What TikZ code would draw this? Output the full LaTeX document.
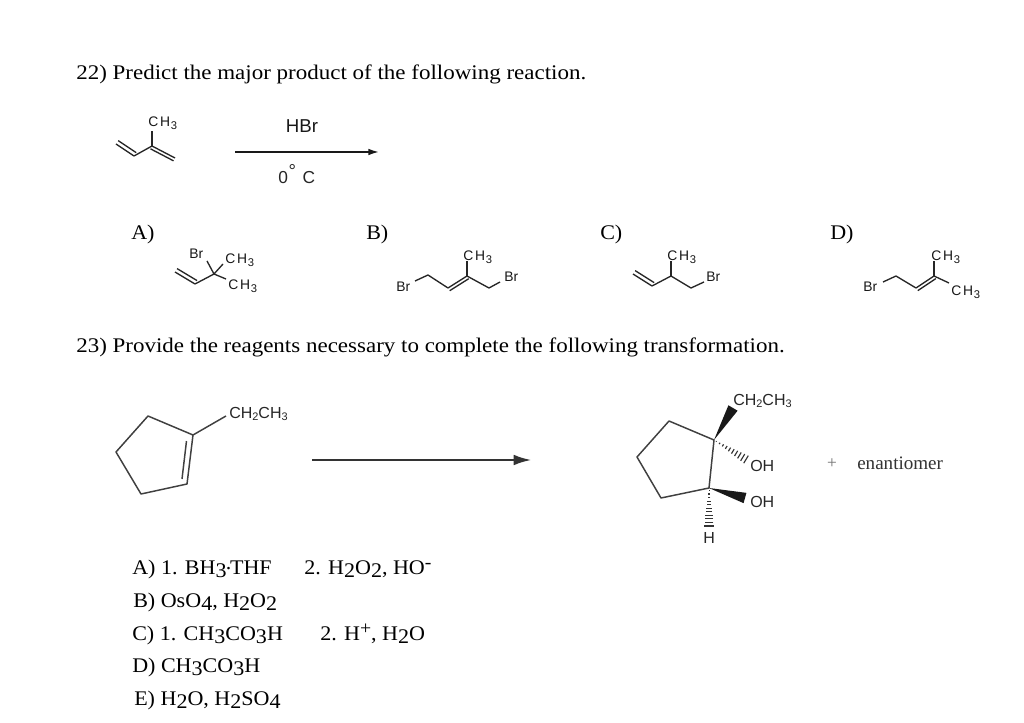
\documentclass[tikz,border=0pt]{standalone}
\usepackage{fontspec}
\usetikzlibrary{calc,arrows.meta}
\setmainfont[FakeStretch=1.06]{Liberation Serif}
\setsansfont{Liberation Sans}
\newfontfamily\timesf{Liberation Serif}
\newfontfamily\headf[FakeStretch=1.105]{Liberation Serif}
\newcommand{\sbs}[1]{\raisebox{-0.32ex}{#1}}
\newcommand{\sps}[1]{\raisebox{0.55ex}{\fontsize{14}{16}\selectfont #1}}
\newcommand{\chthree}{\textsf{C\kern1.3pt H\kern0.6pt\raisebox{-0.3ex}{\fontsize{8.4}{9}\selectfont 3}}}
\newcommand{\ethyl}{\textsf{CH\raisebox{-0.25ex}{\fontsize{8.2}{9}\selectfont 2}CH\raisebox{-0.25ex}{\fontsize{8.2}{9}\selectfont 3}}}
\newcommand{\dbond}[3]{\draw[bond] (#1)--(#2); \draw[bond] ($(#1)!#3!90:(#2)$)--($(#2)!#3!-90:(#1)$);}
\newcommand{\wedgeb}[3]{\fill[black!90] (#1)--($(#2)!#3!90:(#1)$)--($(#2)!#3!-90:(#1)$)--cycle;}
\newcommand{\hashb}[3]{\foreach \t in {1,...,#3}{\pgfmathsetmacro{\fr}{(\t-0.3)/#3}\pgfmathsetmacro{\wd}{#2*\fr}\draw[line width=0.85pt,black!80] ($(#1)!\fr!(#1end)!\wd pt!90:(#1end)$)--($(#1)!\fr!(#1end)!\wd pt!-90:(#1end)$);}}
\tikzset{
  bond/.style={line width=1pt,black!85,line join=round},
  ringb/.style={line width=1.1pt,black!75,line join=round},
  head/.style={anchor=base west,inner sep=0pt,font=\headf\fontsize{15.6}{18}\selectfont,text=black},
  prose/.style={anchor=base west,inner sep=0pt,font=\fontsize{15.6}{18}\selectfont,text=black},
  lab/.style={anchor=base west,inner sep=0pt,font=\sffamily\fontsize{10.4}{12}\selectfont,text=black!90},
  reag/.style={anchor=base,inner sep=0pt,font=\sffamily\fontsize{14}{16}\selectfont,text=black!90},
  ringlab/.style={anchor=base west,inner sep=0pt,font=\sffamily\fontsize{12}{14}\selectfont,text=black!85},
  opt/.style={prose}
}
\begin{document}
\begin{tikzpicture}[x=0.75pt,y=-0.75pt]
\useasboundingbox (0,0) rectangle (1024,723);
\fill[white] (0,0) rectangle (1024,723);
% headings
\node[head] (q22) at (76,80) {22) Predict the major product of the following reaction.};
\node[head] (q23) at (76,353) {23) Provide the reagents necessary to complete the following transformation.};
\node[prose] (la) at (131,240) {A)};
\node[prose] (lb) at (366,240) {B)};
\node[prose] (lc) at (600,240) {C)};
\node[prose] (ld) at (830,240) {D)};
% starting diene
\coordinate (a1) at (116,144); \coordinate (a2) at (134,156); \coordinate (a3) at (152,146);
\coordinate (a4) at (175,158); \coordinate (a5) at (152,131);
\dbond{a1}{a2}{3pt}
\draw[bond] (a2)--(a3)--(a4); \draw[bond] (a3)--(a5);
\draw[bond] ($(a3)!2.4pt!-90:(a4)$)--($(a4)!2.4pt!90:(a3)$);
\node[lab] (ach) at (148,127) {\chthree};
% reaction 1
\node[reag] (hbr) at (302,133) {HBr};
\coordinate (r1s) at (235,152); \coordinate (r1e) at (379,152);
\draw[line width=1.2pt,black!90,-{Latex[length=8pt,width=5pt]}] (r1s)--(r1e);
\node[anchor=base west,inner sep=0pt,font=\sffamily\fontsize{13}{15}\selectfont,text=black!85] (zero) at (278,184) {0\kern0.5pt\raisebox{0.75ex}{\fontsize{14}{15}\selectfont\textdegree}\kern5pt C};
% A
\coordinate (b1) at (175,272); \coordinate (b2) at (195,284); \coordinate (b3) at (214,274);
\coordinate (b4) at (207,261); \coordinate (b5) at (223,264); \coordinate (b6) at (226,279);
\dbond{b1}{b2}{3pt}
\draw[bond] (b2)--(b3)--(b4); \draw[bond] (b3)--(b5); \draw[bond] (b3)--(b6);
\node[lab] (bbr) at (189,259) {Br};
\node[lab] (bch1) at (225,264) {\chthree};
\node[lab] (bch2) at (228,290) {\chthree};
% B
\coordinate (c1) at (415,281); \coordinate (c2) at (428,275); \coordinate (c3) at (448,288);
\coordinate (c4) at (467,276); \coordinate (c5) at (489,288); \coordinate (c6) at (500,282);
\coordinate (c7) at (467,261);
\draw[bond] (c1)--(c2)--(c3); \dbond{c3}{c4}{-2.4pt}
\draw[bond] (c4)--(c5)--(c6); \draw[bond] (c4)--(c7);
\node[lab] (cbr1) at (396,292) {Br};
\node[lab] (cbr2) at (504,282) {Br};
\node[lab] (cch) at (463,261) {\chthree};
% C
\coordinate (d1) at (633,274); \coordinate (d2) at (652,286); \coordinate (d3) at (671,276);
\coordinate (d4) at (691,288); \coordinate (d5) at (704,282); \coordinate (d6) at (671,261);
\dbond{d1}{d2}{3pt}
\draw[bond] (d2)--(d3)--(d4)--(d5); \draw[bond] (d3)--(d6);
\node[lab] (dbr) at (706,282) {Br};
\node[lab] (dch) at (667,261) {\chthree};
% D
\coordinate (e1) at (883,282); \coordinate (e2) at (896,276); \coordinate (e3) at (916,288);
\coordinate (e4) at (934,276); \coordinate (e5) at (949,283); \coordinate (e6) at (934,261);
\draw[bond] (e1)--(e2)--(e3); \dbond{e3}{e4}{-2.4pt}
\draw[bond] (e4)--(e5); \draw[bond] (e4)--(e6);
\node[lab] (ebr) at (863,292) {Br};
\node[lab] (ech1) at (931,261) {\chthree};
\node[lab] (ech2) at (951,296) {\chthree};
% cyclopentene
\coordinate (f1) at (193,435); \coordinate (f2) at (148,416); \coordinate (f3) at (116,452);
\coordinate (f4) at (141,494); \coordinate (f5) at (187,484); \coordinate (f6) at (226,416);
\coordinate (f7) at (186.5,441); \coordinate (f8) at (182,479);
\draw[ringb] (f1)--(f2)--(f3)--(f4)--(f5)--cycle;
\draw[ringb] (f7)--(f8); \draw[ringb] (f1)--(f6);
\node[ringlab] (fet) at (229,418) {\ethyl};
% reaction 2
\coordinate (r2s) at (312,460); \coordinate (r2e) at (531,460);
\draw[line width=1.3pt,black!80,-{Latex[length=13pt,width=8pt]}] (r2s)--(r2e);
% diol
\coordinate (g1) at (714,440); \coordinate (g2) at (669,421); \coordinate (g3) at (637,457);
\coordinate (g4) at (661,498); \coordinate (g5) at (709,488);
\coordinate (g6) at (733,408); \coordinate (g1end) at (747,460); \coordinate (g7) at (745,498);
\coordinate (g5end) at (709,527);
\draw[ringb] (g1)--(g2)--(g3)--(g4)--(g5)--cycle;
\wedgeb{g1}{g6}{4pt}
\wedgeb{g5}{g7}{4pt}
\hashb{g1}{3.4}{10}
\hashb{g5}{3.8}{11}
\node[ringlab] (get) at (733,405) {\ethyl};
\node[ringlab] (goh1) at (750,471) {OH};
\node[ringlab] (goh2) at (750,507) {OH};
\node[ringlab] (gh) at (703,543) {H};
\node[anchor=base,inner sep=0pt,font=\timesf\fontsize{13}{15}\selectfont,text=black!55] (plus) at (832,468) {+};
\node[anchor=base west,inner sep=0pt,font=\timesf\fontsize{14.3}{16}\selectfont,text=black!80] (enan) at (857,469) {enantiomer};
% options
\node[opt] (o1) at (132,574) {A) 1. BH\sbs{3}\raisebox{0.5ex}{\kern-0.5pt.}\kern-1pt THF};
\node[opt] (o1b) at (304,574) {2. H\sbs{2}O\sbs{2}, HO\sps{-}};
\node[opt] (o2) at (133,607) {B) OsO\sbs{4}, H\sbs{2}O\sbs{2}};
\node[opt] (o3) at (132,640) {C) 1. CH\sbs{3}CO\sbs{3}H};
\node[opt] (o3b) at (320,640) {2. H\sps{+}, H\sbs{2}O};
\node[opt] (o4) at (132,672) {D) CH\sbs{3}CO\sbs{3}H};
\node[opt] (o5) at (134,705) {E) H\sbs{2}O, H\sbs{2}SO\sbs{4}};
\end{tikzpicture}
\end{document}
